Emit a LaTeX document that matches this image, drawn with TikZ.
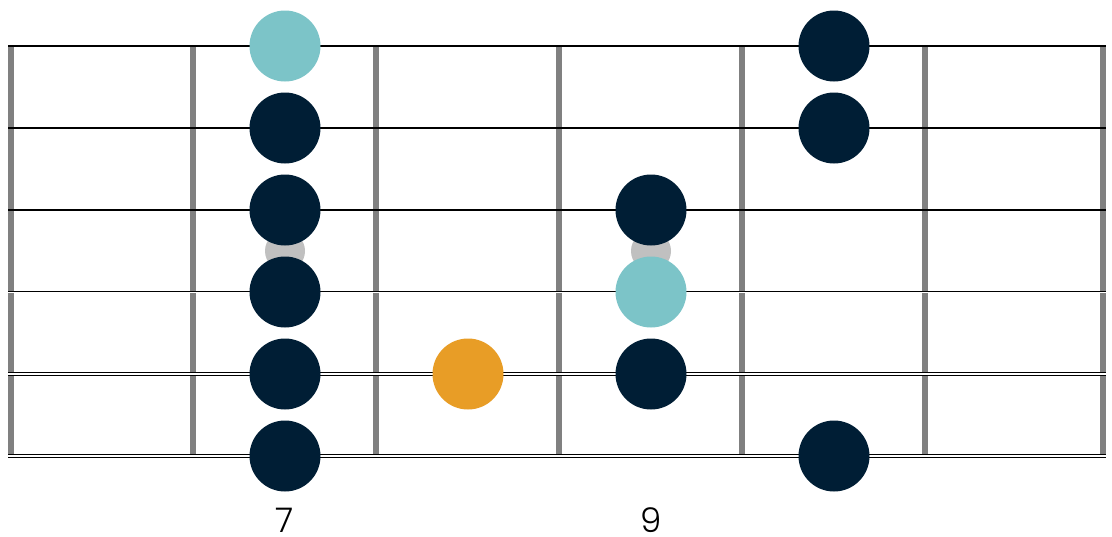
\documentclass[tikz,border=0pt]{standalone}
\usepackage{fontspec}
\newfontfamily\fretfont{Poppins}[UprightFont={* Light}]
\usepackage{tikz}
\definecolor{darknavy}{RGB}{0,30,53}
\definecolor{lightteal}{RGB}{124,196,200}
\definecolor{amber}{RGB}{232,157,38}
\definecolor{fretgray}{RGB}{128,128,128}
\definecolor{inlaygray}{RGB}{192,192,192}
\newcommand{\notesize}{71pt}
\newcommand{\inlaysize}{40pt}
\tikzset{
    plain-string/.style={black, line width=1.1pt},
    wound-string/.style={black, line width=0.9pt, double=white},
    fret/.style={fretgray, line width=6pt},
    note/.style={circle, fill=darknavy, minimum size=\notesize, inner sep=0pt},
    root/.style={note, fill=lightteal},
    passing/.style={note, fill=amber},
    inlay/.style={circle, fill=inlaygray, minimum size=\inlaysize, inner sep=0pt},
    fretnum/.style={font=\fretfont\fontsize{34}{40}\selectfont, inner sep=0pt}
}

\begin{document}
\begin{tikzpicture}[x=1pt, y=-1pt]
                \useasboundingbox[fill=white] (0,0) rectangle (1112,536);

                % frets
                \draw[fret] (11,46) -- (11,456) (193,46) -- (193,456) (376,46) -- (376,456)
                    (559,46) -- (559,456) (742,46) -- (742,456) (925,46) -- (925,456) (1103,46) -- (1103,456);

                % strings, high e on top
                \draw[plain-string] (8,46) -- (1106,46) (8,128) -- (1106,128) (8,210) -- (1106,210);
                \draw[wound-string, double distance=0.7pt] (8,292) -- (1106,292);
                \draw[wound-string, double distance=1.3pt] (8,374) -- (1106,374);
                \draw[wound-string, double distance=2pt] (8,456) -- (1106,456);

                % inlays
                \node[inlay] (inlay7) at (285,251) {};
                \node[inlay] (inlay9) at (651,251) {};

                \node[root] (e7) at (285,46) {};
                \node[note] (B7) at (285,128) {};
                \node[note] (G7) at (285,210) {};
                \node[note] (D7) at (285,292) {};
                \node[note] (A7) at (285,374) {};
                \node[note] (E7) at (285,456) {};
                \node[passing] (A8) at (468,374) {};
                \node[note] (G9) at (651,210) {};
                \node[root] (D9) at (651,292) {};
                \node[note] (A9) at (651,374) {};
                \node[note] (e10) at (834,46) {};
                \node[note] (B10) at (834,128) {};
                \node[note] (E10) at (834,456) {};

                \node[fretnum] (num7) at (285,520) {7};
                \node[fretnum] (num9) at (651,520) {9};

            \end{tikzpicture}
\end{document}
